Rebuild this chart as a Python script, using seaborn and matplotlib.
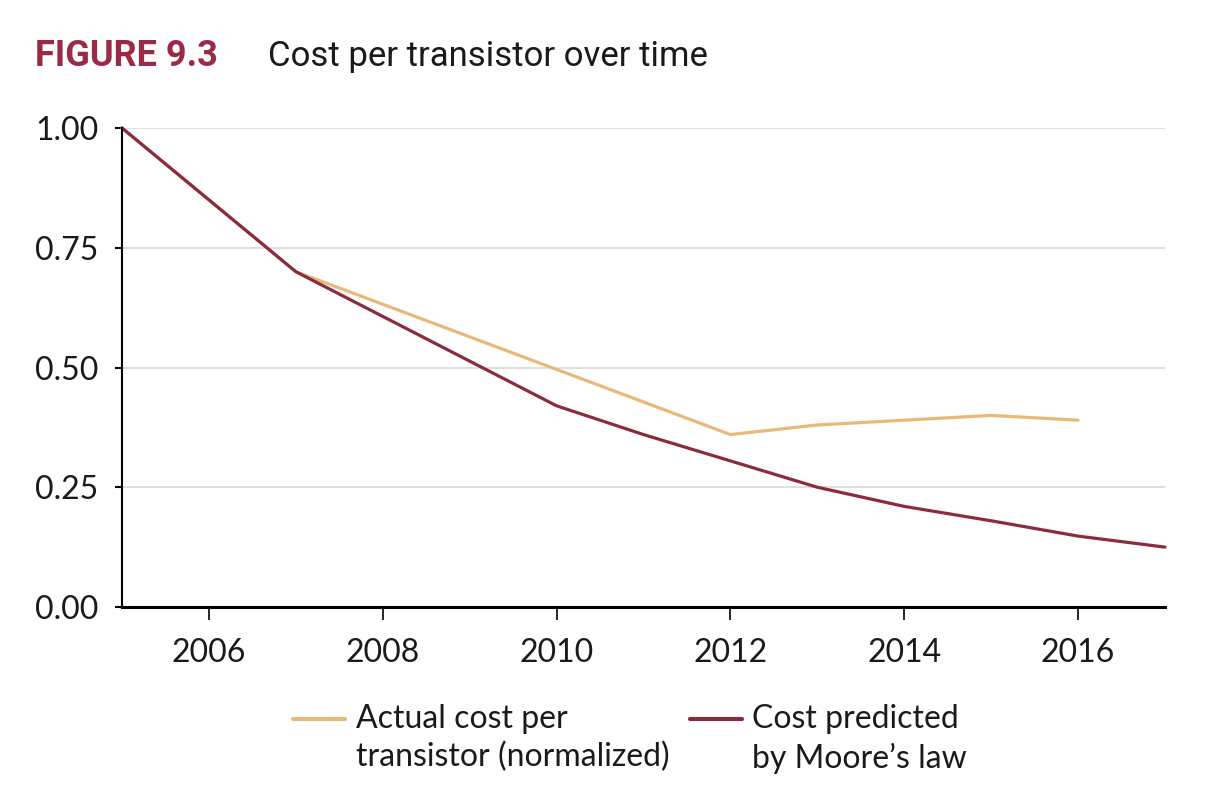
import matplotlib
matplotlib.use("Agg")
import matplotlib.pyplot as plt
import seaborn as sns
import pandas as pd
from matplotlib.lines import Line2D

years_actual = [2005, 2007, 2012, 2013, 2014, 2015, 2016]
cost_actual = [1.00, 0.70, 0.36, 0.38, 0.39, 0.40, 0.39]
years_moore = [2005, 2007, 2010, 2011, 2012, 2013, 2014, 2015, 2016, 2017]
cost_moore = [1.00, 0.70, 0.42, 0.36, 0.305, 0.25, 0.21, 0.18, 0.148, 0.125]
label_actual = "Actual cost per\ntransistor (normalized)"
label_moore = "Cost predicted\nby Moore\u2019s law"
x_ticks = [2006, 2008, 2010, 2012, 2014, 2016]
y_ticks = [0.00, 0.25, 0.50, 0.75, 1.00]

col_actual = "#E8B97A"
col_moore = "#8A2C3E"

df = pd.concat([
    pd.DataFrame({"year": years_actual, "cost": cost_actual, "series": label_actual}),
    pd.DataFrame({"year": years_moore, "cost": cost_moore, "series": label_moore}),
])

sns.set_theme(style="white")
plt.rcParams["font.family"] = ["Lato", "DejaVu Sans"]

W, H = 1221, 802
fig = plt.figure(figsize=(W/100, H/100), dpi=100)
ax = fig.add_axes([122/W, 1-607/H, (1165-122)/W, (607-128)/H])

sns.lineplot(data=df, x="year", y="cost", hue="series",
             palette={label_actual: col_actual, label_moore: col_moore},
             linewidth=2.3, ax=ax, legend=False, clip_on=False)

ax.set_xlim(2005, 2017)
ax.set_ylim(0, 1.0)
ax.set_xticks(x_ticks)
ax.set_yticks(y_ticks)
ax.set_yticklabels([f"{v:.2f}" for v in y_ticks])
ax.set_xlabel("")
ax.set_ylabel("")
for v in y_ticks[1:]:
    ax.axhline(v, color="#D9D9D9", lw=1.2, zorder=0)

for s in ["top", "right"]:
    ax.spines[s].set_visible(False)
ax.spines["left"].set_color("black")
ax.spines["left"].set_linewidth(1.5)
ax.spines["bottom"].set_color("black")
ax.spines["bottom"].set_linewidth(2.2)
ax.tick_params(axis="x", length=9, width=1.2, color="black", labelsize=23, pad=13, direction="out", bottom=True)
ax.tick_params(axis="y", length=5, width=1.5, color="black", labelsize=23, pad=12, direction="out", left=True)
for t in ax.get_xticklabels() + ax.get_yticklabels():
    t.set_color("#1a1a1a")

fig.text(35/W, 1-66/H, "FIGURE 9.3", fontsize=26, fontweight="bold",
         color="#9A2A45", family=["Roboto", "DejaVu Sans"], va="baseline")
fig.text(268/W, 1-66/H, "Cost per transistor over time", fontsize=25,
         color="#1a1a1a", family=["Roboto", "DejaVu Sans"], va="baseline")

# legend (manual layout so handles align with the first text line)
leg_items = [(293, 356, col_actual, label_actual), (690, 752, col_moore, label_moore)]
for hx, tx, col, lab in leg_items:
    fig.add_artist(Line2D([hx/W, (hx+52)/W], [1-719/H, 1-719/H], color=col, lw=3,
                          transform=fig.transFigure))
    fig.text(tx/W, 1-704/H, lab, fontsize=23, color="#1a1a1a", va="top",
             ha="left", linespacing=1.33)

fig.savefig("out.png", dpi=100)
